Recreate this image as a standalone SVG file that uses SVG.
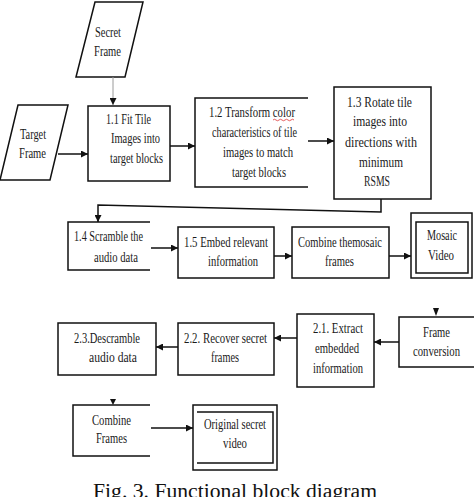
<svg xmlns="http://www.w3.org/2000/svg" width="474" height="497" viewBox="0 0 474 497">
<style>
.b{fill:none;stroke:#111;stroke-width:1.5}
.c{fill:none;stroke:#111;stroke-width:1.5}
.t{font-family:"Liberation Serif","Times New Roman",serif;font-size:15px;fill:#1a1a1a}
.cap{font-family:"Liberation Serif","Times New Roman",serif;font-size:20px;fill:#111}
</style>
<defs>
<marker id="ah" viewBox="0 0 7 7" refX="7" refY="3.5" markerWidth="7" markerHeight="7" markerUnits="userSpaceOnUse" orient="auto">
<path d="M0,0 L7,3.5 L0,7 z" fill="#111"/>
</marker>
</defs>
<rect width="474" height="497" fill="#fff"/>

<g id="secret-frame">
<polygon class="b" points="95,2 143,2 125,77 76,77"/>
<text class="t" x="95" y="37" textLength="26" lengthAdjust="spacingAndGlyphs">Secret</text>
<text class="t" x="94" y="56" textLength="27" lengthAdjust="spacingAndGlyphs">Frame</text>
</g>

<g id="target-frame">
<polygon class="b" points="18,105 68,105 50,180 0,180"/>
<text class="t" x="20" y="139" textLength="26" lengthAdjust="spacingAndGlyphs">Target</text>
<text class="t" x="19" y="158" textLength="27" lengthAdjust="spacingAndGlyphs">Frame</text>
</g>

<g id="n11">
<rect class="b" x="88" y="106" width="82" height="75"/>
<text class="t" x="106" y="124" textLength="45" lengthAdjust="spacingAndGlyphs">1.1 Fit Tile</text>
<text class="t" x="111" y="143" textLength="49" lengthAdjust="spacingAndGlyphs">Images into</text>
<text class="t" x="110" y="163" textLength="53" lengthAdjust="spacingAndGlyphs">target blocks</text>
</g>

<g id="n12">
<path class="b" d="M308,98 H195 V187 H308"/>
<text class="t" x="209" y="117" textLength="86" lengthAdjust="spacingAndGlyphs">1.2 Transform color</text>
<path d="M273,120 q1.5,-1.5 3,0 t3,0 t3,0 t3,0 t3,0 t3,0 t3,0" fill="none" stroke="#d33" stroke-width="0.8"/>
<text class="t" x="212" y="137" textLength="85" lengthAdjust="spacingAndGlyphs">characteristics of tile</text>
<text class="t" x="223" y="157" textLength="70" lengthAdjust="spacingAndGlyphs">images to match</text>
<text class="t" x="232" y="177" textLength="54" lengthAdjust="spacingAndGlyphs">target blocks</text>
</g>

<g id="n13">
<rect class="b" x="334" y="87" width="97" height="112"/>
<text class="t" x="347" y="107" textLength="65" lengthAdjust="spacingAndGlyphs">1.3 Rotate tile</text>
<text class="t" x="353" y="126" textLength="54" lengthAdjust="spacingAndGlyphs">images into</text>
<text class="t" x="345" y="147" textLength="72" lengthAdjust="spacingAndGlyphs">directions with</text>
<text class="t" x="359" y="167" textLength="44" lengthAdjust="spacingAndGlyphs">minimum</text>
<text class="t" x="364" y="186" textLength="26" lengthAdjust="spacingAndGlyphs">RSMS</text>
</g>

<g id="n14">
<path class="b" d="M150,222 H68 V270 H150" stroke-width="2"/>
<text class="t" x="74" y="241" textLength="69" lengthAdjust="spacingAndGlyphs">1.4 Scramble the</text>
<text class="t" x="94" y="262" textLength="44" lengthAdjust="spacingAndGlyphs">audio data</text>
</g>

<g id="n15">
<rect class="b" x="178" y="227" width="96" height="51"/>
<text class="t" x="184" y="247" textLength="84" lengthAdjust="spacingAndGlyphs">1.5 Embed relevant</text>
<text class="t" x="208" y="266" textLength="50" lengthAdjust="spacingAndGlyphs">information</text>
</g>

<g id="combine-mosaic">
<rect class="b" x="292" y="227" width="97" height="51"/>
<text class="t" x="298" y="247" textLength="84" lengthAdjust="spacingAndGlyphs">Combine themosaic</text>
<text class="t" x="325" y="266" textLength="29" lengthAdjust="spacingAndGlyphs">frames</text>
</g>

<g id="mosaic-video">
<rect class="b" x="411" y="213" width="61" height="65"/>
<rect class="b" x="416" y="222" width="52" height="51"/>
<text class="t" x="427" y="240" textLength="30" lengthAdjust="spacingAndGlyphs">Mosaic</text>
<text class="t" x="428" y="260" textLength="26" lengthAdjust="spacingAndGlyphs">Video</text>
</g>

<g id="frame-conversion">
<path class="b" d="M474,317 H399 V367 H474"/>
<text class="t" x="423" y="337" textLength="27" lengthAdjust="spacingAndGlyphs">Frame</text>
<text class="t" x="413" y="356" textLength="47" lengthAdjust="spacingAndGlyphs">conversion</text>
</g>

<g id="n21">
<rect class="b" x="297" y="314" width="77" height="73"/>
<text class="t" x="313" y="333" textLength="50" lengthAdjust="spacingAndGlyphs">2.1. Extract</text>
<text class="t" x="315" y="353" textLength="44" lengthAdjust="spacingAndGlyphs">embedded</text>
<text class="t" x="313" y="373" textLength="50" lengthAdjust="spacingAndGlyphs">information</text>
</g>

<g id="n22">
<rect class="b" x="178" y="323" width="96" height="52"/>
<text class="t" x="184" y="343" textLength="83" lengthAdjust="spacingAndGlyphs">2.2. Recover secret</text>
<text class="t" x="211" y="362" textLength="28" lengthAdjust="spacingAndGlyphs">frames</text>
</g>

<g id="n23">
<rect class="b" x="58" y="323" width="98" height="52"/>
<text class="t" x="74" y="343" textLength="66" lengthAdjust="spacingAndGlyphs">2.3.Descramble</text>
<text class="t" x="89" y="362" textLength="48" lengthAdjust="spacingAndGlyphs">audio data</text>
</g>

<g id="combine-frames">
<path class="b" d="M150,405 H73 V456 H150"/>
<text class="t" x="92" y="425" textLength="39" lengthAdjust="spacingAndGlyphs">Combine</text>
<text class="t" x="96" y="443" textLength="31" lengthAdjust="spacingAndGlyphs">Frames</text>
</g>

<g id="original-video">
<rect class="b" x="193" y="405" width="84" height="65"/>
<path class="b" d="M197,412 H273 V463 H197"/>
<text class="t" x="204" y="429" textLength="62" lengthAdjust="spacingAndGlyphs">Original secret</text>
<text class="t" x="223" y="448" textLength="24" lengthAdjust="spacingAndGlyphs">video</text>
</g>

<g id="connectors">
<line x1="113" y1="77" x2="113" y2="105" stroke="#9a9a9a" stroke-width="1" marker-end="url(#ah)"/>
<line class="c" x1="58" y1="154" x2="88" y2="154" marker-end="url(#ah)"/>
<line class="c" x1="170" y1="146" x2="195" y2="146" marker-end="url(#ah)"/>
<line class="c" x1="308" y1="141" x2="334" y2="141" marker-end="url(#ah)"/>
<polyline class="c" points="381,199 381,212 98,205 98,222" marker-end="url(#ah)"/>
<line class="c" x1="151" y1="248" x2="178" y2="248" marker-end="url(#ah)"/>
<line class="c" x1="274" y1="256" x2="292" y2="256" stroke-width="1" marker-end="url(#ah)"/>
<line class="c" x1="389" y1="256" x2="411" y2="256" stroke-width="1" marker-end="url(#ah)"/>
<polygon points="433,308 439,308 436,316" fill="#111"/>
<line class="c" x1="399" y1="342" x2="374" y2="342" stroke-width="1" marker-end="url(#ah)"/>
<line class="c" x1="297" y1="338" x2="274" y2="338" stroke-width="1" marker-end="url(#ah)"/>
<line class="c" x1="178" y1="347" x2="156" y2="347" stroke-width="1" marker-end="url(#ah)"/>
<polygon points="110,399 116,399 113,405" fill="#111"/>
<line class="c" x1="151" y1="428" x2="193" y2="428" stroke-width="1" marker-end="url(#ah)"/>
</g>

<text class="cap" x="93" y="498" textLength="284" lengthAdjust="spacingAndGlyphs">Fig. 3. Functional block diagram</text>
</svg>
